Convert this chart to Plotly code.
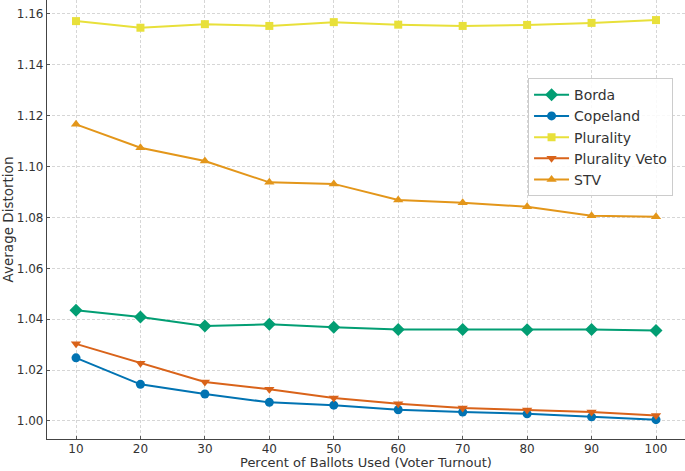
import plotly.graph_objects as go

turnout = [10, 20, 30, 40, 50, 60, 70, 80, 90, 100]
borda = [1.0435, 1.0409, 1.0373, 1.0380, 1.0368, 1.0360, 1.0360, 1.0359, 1.0360, 1.0356]
copeland = [1.0248, 1.0144, 1.0106, 1.0073, 1.0062, 1.0044, 1.0035, 1.0028, 1.0016, 1.0005]
plurality = [1.1572, 1.1546, 1.1560, 1.1553, 1.1568, 1.1558, 1.1553, 1.1557, 1.1565, 1.1576]
plurality_veto = [1.0303, 1.0227, 1.0153, 1.0125, 1.0090, 1.0068, 1.0051, 1.0043, 1.0035, 1.0021]
stv = [1.1166, 1.1074, 1.1022, 1.0938, 1.0932, 1.0869, 1.0858, 1.0842, 1.0807, 1.0803]

x_title = "Percent of Ballots Used (Voter Turnout)"
y_title = "Average Distortion"

series = [
    ("Borda", borda, "#029e73", "diamond", 10),
    ("Copeland", copeland, "#0173b2", "circle", 9),
    ("Plurality", plurality, "#e8e03a", "square", 8),
    ("Plurality Veto", plurality_veto, "#d9631a", "triangle-down", 9),
    ("STV", stv, "#e3961a", "triangle-up", 9),
]

fig = go.Figure()
for name, vals, color, sym, sz in series:
    fig.add_trace(go.Scatter(
        x=turnout, y=vals, name=name, mode="lines+markers",
        line=dict(color=color, width=2),
        marker=dict(symbol=sym, size=sz, color=color, line=dict(width=0)),
    ))

grid = dict(showgrid=True, gridcolor="#d6d6d6", griddash="3px,2px", gridwidth=0.8)

fig.update_layout(
    width=685, height=471,
    margin=dict(l=47, r=0, t=0, b=32),
    paper_bgcolor="white", plot_bgcolor="white",
    font=dict(family="DejaVu Sans", size=12, color="#333333"),
    legend=dict(
        x=0.754, y=0.822, xanchor="left", yanchor="top",
        bgcolor="rgba(255,255,255,0.85)", bordercolor="#cccccc", borderwidth=1,
        font=dict(size=14, color="#333333"), tracegroupgap=0, itemwidth=35,
    ),
    xaxis=dict(
        range=[5.5, 104.5], tickmode="array", tickvals=turnout,
        showline=True, linecolor="#444444", linewidth=1.2,
        ticks="inside", ticklen=3, tickcolor="#555555", tickwidth=1,
        zeroline=False, tickfont=dict(size=12), ticklabelstandoff=-2, **grid,
    ),
    yaxis=dict(
        range=[0.9929, 1.1655], tickmode="array",
        tickvals=[1.00, 1.02, 1.04, 1.06, 1.08, 1.10, 1.12, 1.14, 1.16],
        tickformat=".2f",
        showline=True, linecolor="#444444", linewidth=1.2,
        ticks="inside", ticklen=3, tickcolor="#555555", tickwidth=1,
        zeroline=False, tickfont=dict(size=12), **grid,
        title=dict(text=y_title, font=dict(size=13.5), standoff=4),
    ),
    annotations=[dict(
        text=x_title, xref="paper", yref="paper", x=0.5, y=0,
        xanchor="center", yanchor="top", yshift=-15, showarrow=False,
        borderpad=0, font=dict(size=13, color="#333333"),
    )],
)

fig.write_html("out.html")
